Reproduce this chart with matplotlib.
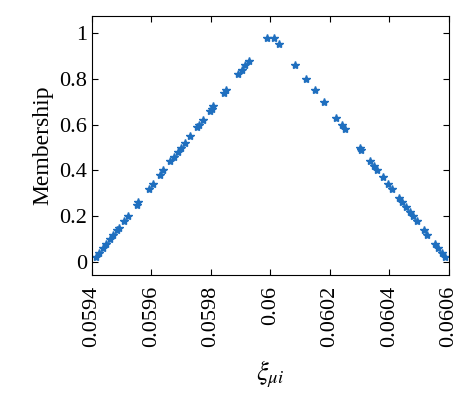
import matplotlib
matplotlib.use("Agg")
import matplotlib.pyplot as plt

plt.rcParams['font.family'] = ['Liberation Serif', 'DejaVu Serif']
plt.rcParams['mathtext.fontset'] = 'stix'

# rising side
x_left = [0.059412, 0.059424, 0.059436, 0.059448, 0.05946, 0.059472, 0.059484, 0.05949,
          0.059508, 0.05952, 0.05955, 0.059556, 0.059592, 0.059604, 0.059628, 0.05964,
          0.059664, 0.059676, 0.059688, 0.0597, 0.059712, 0.05973, 0.059754, 0.05976,
          0.059772, 0.059796, 0.059802, 0.059808, 0.059844, 0.05985, 0.059892, 0.059904,
          0.059916, 0.059928, 0.059988]
y_left = [0.02, 0.04, 0.06, 0.08, 0.10, 0.12, 0.14, 0.15, 0.18, 0.20, 0.25, 0.26, 0.32,
          0.34, 0.38, 0.40, 0.44, 0.46, 0.48, 0.50, 0.52, 0.55, 0.59, 0.60, 0.62, 0.66,
          0.67, 0.68, 0.74, 0.75, 0.82, 0.84, 0.86, 0.88, 0.98]
# falling side
x_right = [0.060012, 0.06003, 0.060084, 0.06012, 0.06015, 0.06018, 0.060222, 0.06024,
           0.060252, 0.0603, 0.060306, 0.060336, 0.060348, 0.06036, 0.060378, 0.060396,
           0.060408, 0.060432, 0.060444, 0.060456, 0.060468, 0.06048, 0.060492, 0.060516,
           0.060528, 0.060552, 0.060564, 0.060576, 0.060588]
y_right = [0.98, 0.95, 0.86, 0.80, 0.75, 0.70, 0.63, 0.60, 0.58, 0.50, 0.49, 0.44, 0.42,
           0.40, 0.37, 0.34, 0.32, 0.28, 0.26, 0.24, 0.22, 0.20, 0.18, 0.14, 0.12, 0.08,
           0.06, 0.04, 0.02]

xticks = [0.0594, 0.0596, 0.0598, 0.06, 0.0602, 0.0604, 0.0606]
xtick_labels = ['0.0594', '0.0596', '0.0598', '0.06', '0.0602', '0.0604', '0.0606']
yticks = [0, 0.2, 0.4, 0.6, 0.8, 1]
ytick_labels = ['0', '0.2', '0.4', '0.6', '0.8', '1']

fig = plt.figure(figsize=(4.74, 4.13), dpi=100)
ax = fig.add_axes([0.194, 0.334, 0.753, 0.627])
ax.plot(x_left + x_right, y_left + y_right, linestyle='none', marker='*',
        markersize=6, color='#1f6fbf')

ax.set_xlim(0.0594, 0.0606)
ax.set_ylim(-0.057, 1.074)
ax.set_xticks(xticks)
ax.set_xticklabels(xtick_labels, rotation=90, fontsize=16)
ax.set_yticks(yticks)
ax.set_yticklabels(ytick_labels, fontsize=16)
ax.tick_params(direction='in', top=True, right=True, length=4)
ax.tick_params(axis='x', pad=8)
ax.set_ylabel('Membership', fontsize=17)
ax.set_xlabel(r'$\xi_{\mu i}$', fontsize=19, labelpad=8)

fig.savefig('out.png', dpi=100)
